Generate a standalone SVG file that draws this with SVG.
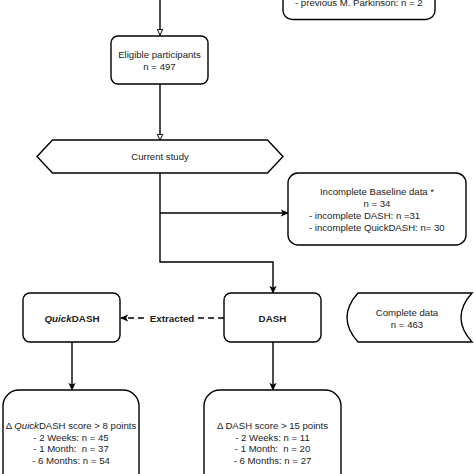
<svg xmlns="http://www.w3.org/2000/svg" width="474" height="474" viewBox="0 0 474 474">
<style>
.box{fill:#fff;stroke:#000;stroke-width:1.4}
.ln{fill:none;stroke:#000;stroke-width:1.4}
text{font-family:"Liberation Sans",Arial,sans-serif;font-size:9.6px;fill:#222}
.c{text-anchor:middle}
.b{font-weight:bold;font-size:9.8px}
</style>
<defs>
<marker id="hollow" viewBox="0 0 10 10" refX="9" refY="5" markerWidth="7" markerHeight="7" markerUnits="userSpaceOnUse" orient="auto">
<path d="M1,1 L9,5 L1,9 Z" fill="#fff" stroke="#000" stroke-width="1.4"/>
</marker>
<marker id="filled" viewBox="0 0 10 10" refX="9" refY="5" markerWidth="8" markerHeight="8" markerUnits="userSpaceOnUse" orient="auto">
<path d="M0,0.5 L10,5 L0,9.5 L2.5,5 Z" fill="#000"/>
</marker>
</defs>
<g id="connectors">
<path class="ln" d="M160,0 V35" marker-end="url(#hollow)"/>
<path class="ln" d="M160,84 V140" marker-end="url(#hollow)"/>
<path class="ln" d="M160,173 V262 H273 V293" marker-end="url(#filled)"/>
<path class="ln" d="M160,213 H288" marker-end="url(#filled)"/>
<path class="ln" d="M224,318 H121" stroke-dasharray="6,4" marker-end="url(#filled)"/>
<path class="ln" d="M72,342 V390" marker-end="url(#filled)"/>
<path class="ln" d="M273,342 V390" marker-end="url(#filled)"/>
<rect x="148" y="311" width="48" height="13" fill="#fff"/>
<text class="b c" x="172" y="321.5">Extracted</text>
</g>
<g id="excluded">
<rect class="box" x="283" y="-20" width="152" height="39.5" rx="9"/>
<text x="295" y="6">- previous M. Parkinson: n = 2</text>
</g>
<g id="eligible">
<rect class="box" x="111" y="36" width="97" height="48" rx="7"/>
<text class="c" x="159.5" y="57.5">Eligible participants</text>
<text class="c" x="159.5" y="69.5">n = 497</text>
</g>
<g id="current">
<path class="box" d="M37,156.5 L52.5,140 H267.5 L283,156.5 L267.5,173 H52.5 Z"/>
<text class="c" x="160" y="160">Current study</text>
</g>
<g id="incomplete">
<rect class="box" x="288" y="173" width="178" height="72" rx="10"/>
<text class="c" x="377" y="195">Incomplete Baseline data *</text>
<text class="c" x="377" y="206.5">n = 34</text>
<text x="309" y="219">- incomplete DASH: n =31</text>
<text x="309" y="230.5">- incomplete QuickDASH: n= 30</text>
</g>
<g id="quickdash">
<rect class="box" x="23" y="293" width="97" height="49" rx="7"/>
<text class="b c" x="72" y="321.5"><tspan font-style="italic">Quick</tspan>DASH</text>
</g>
<g id="dash">
<rect class="box" x="224" y="293" width="97" height="49" rx="7"/>
<text class="b c" x="272.5" y="321.5">DASH</text>
</g>
<g id="complete">
<path class="box" d="M358,293 H472 Q450,317.5 472,342 H358 Q336,317.5 358,293 Z"/>
<text class="c" x="407" y="316">Complete data</text>
<text class="c" x="407" y="327.5">n = 463</text>
</g>
<g id="quickdash-change">
<rect class="box" x="3" y="390" width="136" height="110" rx="16"/>
<text class="c" x="71" y="429">Δ <tspan font-style="italic">Quick</tspan>DASH score &gt; 8 points</text>
<text class="c" x="71" y="440.5">- 2 Weeks: n = 45</text>
<text class="c" x="71" y="452" xml:space="preserve">- 1 Month:  n = 37</text>
<text class="c" x="71" y="463.5">- 6 Months: n = 54</text>
</g>
<g id="dash-change">
<rect class="box" x="204" y="390" width="137" height="110" rx="16"/>
<text class="c" x="272.5" y="429">Δ DASH score &gt; 15 points</text>
<text class="c" x="272.5" y="440.5">- 2 Weeks: n = 11</text>
<text class="c" x="272.5" y="452" xml:space="preserve">- 1 Month:  n = 20</text>
<text class="c" x="272.5" y="463.5">- 6 Months: n = 27</text>
</g>
</svg>
